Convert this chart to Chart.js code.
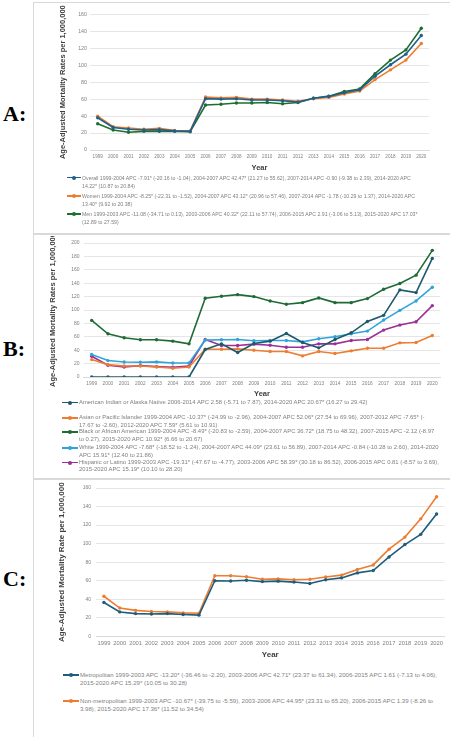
<!DOCTYPE html>
<html>
<head>
<meta charset="utf-8">
<script src="https://cdn.jsdelivr.net/npm/chart.js"></script>
<style>
  html, body { margin: 0; padding: 0; background: #fff; }
  #page { position: relative; width: 450px; height: 737px; overflow: hidden; font-family: "Liberation Sans", Arial, sans-serif; }
  .frame { position: absolute; left: 33px; width: 425px; border: 1px solid #d9d9d9; }
  .tag { position: absolute; left: 3px; font: bold 22px "Liberation Serif", "Times New Roman", serif; color: #000; }
  canvas { position: absolute; left: 34px; }
  .leg { position: absolute; color: #7f7f7f; white-space: nowrap; }
  .leg .sw { position: absolute; left: 0; height: 1.6px; }
  .leg .sw i { position: absolute; left: 50%; top: 50%; width: 4px; height: 4px; margin: -2px 0 0 -2px; border-radius: 50%; }
  .leg .tx { position: absolute; top: 0; }
</style>
</head>
<body>
<div id="page">
  <div class="frame" style="top:2px;height:231px"></div>
  <div class="frame" style="top:233px;height:245px"></div>
  <div class="frame" style="top:478px;height:270px"></div>
  <div class="tag" style="top:101px">A:</div>
  <div class="tag" style="top:336px">B:</div>
  <div class="tag" style="top:566px">C:</div>
  <canvas id="chartA"></canvas>
  <canvas id="chartB"></canvas>
  <canvas id="chartC"></canvas>
</div>
<script>
const years = ['1999','2000','2001','2002','2003','2004','2005','2006','2007','2008','2009','2010','2011','2012','2013','2014','2015','2016','2017','2018','2019','2020'];

// A: by sex
const overall = [38, 26.5, 24.5, 23.5, 24, 22.5, 22, 60.5, 60, 60.5, 59, 59, 58, 56.5, 61, 63, 67.5, 71, 87, 100.5, 113, 135];
const women = [40, 27.5, 26, 24.5, 25.5, 23, 22.5, 62.5, 61.5, 62, 60, 60, 59, 57.5, 60.5, 62, 66, 69.5, 83, 94.5, 106, 125.5];
const men = [31, 23.5, 21, 22, 22, 22, 21.5, 53, 54, 55.5, 55.5, 56, 54.5, 56, 61, 63.5, 69, 72, 90, 106, 118, 143.5];

// B: by race / ethnicity
const aian = [0, 0, 0, 0, 0, 0, 0, 41, 49.5, 36.5, 50, 53.5, 65, 51.5, 43.5, 56, 66, 83, 92, 130, 126, 177];
const asian = [26, 18.5, 16.5, 16.5, 15, 13, 15, 41.5, 41.5, 42, 40, 38, 38, 31.5, 38, 35, 39, 43, 43, 51, 51.5, 62];
const black = [84.5, 64.5, 58.5, 55.5, 55.5, 53.5, 49.5, 117.5, 120.5, 123, 120, 113.5, 108.5, 111, 118, 111, 111, 117, 131, 139.5, 152, 189];
const white = [33.5, 24.5, 22.5, 22, 22.5, 21, 21, 55, 55.5, 56, 54, 54.5, 54.5, 52.5, 57, 60, 64.5, 68.5, 85, 99.5, 113.5, 134];
const hispanic = [31, 17.5, 15, 17, 15.5, 14.5, 16.5, 56, 47, 47, 49, 47.5, 44.5, 44.5, 49.5, 49.5, 54.5, 56, 70, 77.5, 82.5, 106.5];

// C: urbanization
const metro = [36.5, 26.3, 24.5, 24, 24.5, 23.5, 22.8, 60, 59.6, 60.4, 59, 59.5, 58.5, 57, 61, 63, 68.4, 71, 85.6, 99, 110, 132];
const nonmetro = [43.2, 30.5, 28, 26.7, 26.3, 25.3, 24.9, 65.3, 65.3, 64.2, 61.5, 62, 61, 61.5, 64, 66, 72, 77, 94, 107, 126.7, 150.5];

const labelsA = [
  ['Overall 1999-2004 APC -7.91* (-20.16 to -1.04), 2004-2007 APC 42.47* (21.27 to 55.62), 2007-2014 APC -0.90 (-9.38 to 2.39), 2014-2020 APC', '14.22* (10.87 to 20.84)'],
  ['Women 1999-2004 APC -8.25* (-22.31 to -1.52), 2004-2007 APC 43.12* (20.96 to 57.46), 2007-2014 APC -1.78 (-10.29 to 1.37), 2014-2020 APC', '13.40* (9.92 to 20.38)'],
  ['Men 1999-2003 APC -11.08 (-34.71 to 0.13), 2003-2006 APC 40.32* (22.11 to 57.74), 2006-2015 APC 2.91 (-3.06 to 5.13), 2015-2020 APC 17.03*', '(12.89 to 27.59)']
];
const labelsB = [
  ['American Indian or Alaska Native 2006-2014 APC 2.58 (-5.71 to 7.87), 2014-2020 APC 20.67* (16.27 to 29.42)'],
  ['Asian or Pacific Islander 1999-2004 APC -10.37* (-24.99 to -2.96), 2004-2007 APC 52.06* (27.54 to 69.96), 2007-2012 APC -7.65* (-', '17.67 to -2.60), 2012-2020 APC 7.59* (5.61 to 10.91)'],
  ['Black or African American 1999-2004 APC -8.49* (-20.83 to -2.59), 2004-2007 APC 36.72* (18.75 to 48.32), 2007-2015 APC -2.12 (-8.97', 'to 0.27), 2015-2020 APC 10.92* (6.66 to 20.67)'],
  ['White 1999-2004 APC -7.68* (-18.52 to -1.24), 2004-2007 APC 44.09* (23.61 to 56.89), 2007-2014 APC -0.84 (-10.28 to 2.60), 2014-2020', 'APC 15.91* (12.40 to 21.86)'],
  ['Hispanic or Latino 1999-2003 APC -19.31* (-47.67 to -4.77), 2003-2006 APC 58.39* (30.18 to 86.52), 2006-2015 APC 0.81 (-8.57 to 3.69),', '2015-2020 APC 15.19* (10.10 to 28.20)']
];
const labelsC = [
  ['Metropolitan 1999-2003 APC -13.20* (-36.46 to -2.20), 2003-2006 APC 42.71* (23.37 to 61.34), 2006-2015 APC 1.61 (-7.13 to 4.06),', '2015-2020 APC 15.29* (10.05 to 30.28)'],
  ['Non-metropolitan 1999-2003 APC -10.67* (-39.75 to -5.59), 2003-2006 APC 44.95* (23.31 to 65.20), 2006-2015 APC 1.39 (-8.26 to', '3.98), 2015-2020 APC 17.36* (11.52 to 34.54)']
];

Chart.defaults.font.family = '"Liberation Sans", Arial, sans-serif';

function makeChart(id, g, yMax, yTitle, sets) {
  const cv = document.getElementById(id);
  const bottom = g.yearY + 7;
  cv.width = 416;
  cv.height = Math.round(bottom - g.top);
  cv.style.top = g.top + 'px';
  new Chart(cv, {
    type: 'line',
    data: {
      labels: years,
      datasets: sets.map(s => ({
        label: s.name[0],
        data: s.data,
        borderColor: s.color,
        backgroundColor: s.color,
        pointBackgroundColor: s.color,
        pointBorderColor: s.color,
        borderWidth: 1.6,
        pointRadius: 1.7,
        pointBorderWidth: 0,
        tension: 0
      }))
    },
    options: {
      responsive: false,
      animation: false,
      events: [],
      layout: { padding: { left: 0, right: 450 - g.plotRight, top: g.plotTop - g.top, bottom: 0 } },
      plugins: { legend: { display: false }, tooltip: { enabled: false } },
      scales: {
        x: {
          offset: true,
          grid: { display: false, drawTicks: false },
          border: { color: '#d9d9d9' },
          ticks: { font: { size: g.xTickFont }, color: '#808080', padding: 4, maxRotation: 0, autoSkip: false },
          title: { display: true, text: 'Year', color: '#404040', font: { size: g.titleFont, weight: 'bold' }, padding: { top: 0, bottom: 7 - g.titleFont * 0.6 } },
          afterFit: s => { s.height = bottom - g.plotBottom; }
        },
        y: {
          min: 0,
          max: yMax,
          ticks: { stepSize: 20, font: { size: g.yTickFont }, color: '#808080', padding: g.yTickPad },
          grid: { color: '#e6e6e6', drawTicks: false },
          border: { display: false },
          title: { display: true, text: yTitle, color: '#404040', font: { size: g.titleFont, weight: 'bold' }, padding: { top: g.yTitleX - 34 - g.titleFont * 0.6, bottom: 0 } },
          afterFit: s => { s.width = g.plotLeft - 34; }
        }
      }
    }
  });

  // legend, drawn as html text under the chart
  const page = document.getElementById('page');
  sets.forEach((s, i) => {
    const d = document.createElement('div');
    d.className = 'leg';
    d.style.left = g.legX + 'px';
    d.style.top = (g.legTops[i] - g.legLine / 2) + 'px';
    d.style.fontSize = g.legFont + 'px';
    d.style.lineHeight = g.legLine + 'px';
    const sw = document.createElement('div');
    sw.className = 'sw';
    sw.style.width = g.legW + 'px';
    sw.style.top = (g.legLine / 2 - 0.8) + 'px';
    sw.style.background = s.color;
    const dot = document.createElement('i');
    dot.style.background = s.color;
    sw.appendChild(dot);
    d.appendChild(sw);
    const tx = document.createElement('div');
    tx.className = 'tx';
    tx.style.left = (g.textX - g.legX) + 'px';
    s.name.forEach((line, j) => {
      if (j > 0) tx.appendChild(document.createElement('br'));
      tx.appendChild(document.createTextNode(line));
    });
    d.appendChild(tx);
    page.appendChild(d);
  });
}

makeChart('chartA', {
  top: 4, plotTop: 14.3, plotBottom: 150.3, plotLeft: 90, plotRight: 429, yearY: 168.3, yTitleX: 63,
  yTickPad: 3, xTickFont: 4.6, yTickFont: 5.3, titleFont: 7.5,
  legX: 67, legW: 14, textX: 82, legTops: [177.7, 196, 214], legFont: 5.2, legLine: 8
}, 160, 'Age-Adjusted Mortality Rates per 1,000,000', [
  { name: labelsA[0], data: overall, color: '#1f5f8b' },
  { name: labelsA[1], data: women, color: '#ed7d31' },
  { name: labelsA[2], data: men, color: '#1e6e30' }
]);

makeChart('chartB', {
  top: 236, plotTop: 242.7, plotBottom: 376.7, plotLeft: 83.6, plotRight: 440.4, yearY: 393.7, yTitleX: 53,
  yTickPad: 4, xTickFont: 4.8, yTickFont: 5, titleFont: 7.5,
  legX: 62, legW: 16, textX: 79, legTops: [402.7, 418, 432, 448, 462.7], legFont: 5.9, legLine: 7.4
}, 200, 'Age-Adjusted Mortality Rates per 1,000,000', [
  { name: labelsB[0], data: aian, color: '#1d5a6e' },
  { name: labelsB[1], data: asian, color: '#ed7d31' },
  { name: labelsB[2], data: black, color: '#1f6b35' },
  { name: labelsB[3], data: white, color: '#2fa4d8' },
  { name: labelsB[4], data: hispanic, color: '#9b2e98' }
]);

makeChart('chartC', {
  top: 480, plotTop: 484, plotBottom: 636.3, plotLeft: 96, plotRight: 444.5, yearY: 655, yTitleX: 61.7,
  yTickPad: 5, xTickFont: 5.8, yTickFont: 5, titleFont: 8,
  legX: 63, legW: 16, textX: 80, legTops: [675, 701], legFont: 6.1, legLine: 8
}, 160, 'Age-Adjusted Mortality Rate per 1,000,000', [
  { name: labelsC[0], data: metro, color: '#1f5d7c' },
  { name: labelsC[1], data: nonmetro, color: '#ed7d31' }
]);
</script>
</body>
</html>
